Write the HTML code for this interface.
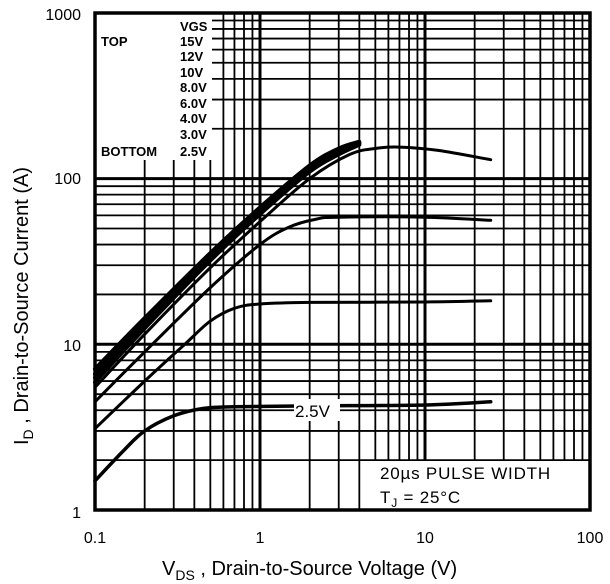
<!DOCTYPE html><html><head><style>body{margin:0;background:#fff}svg{display:block}text{font-family:"Liberation Sans",sans-serif}</style></head><body>
<svg id="s" width="610" height="584" xmlns="http://www.w3.org/2000/svg">
<g id="grid"></g>
<rect x="96" y="14" width="116" height="146" fill="#fff"/>
<g id="curves" fill="none" stroke="#000" stroke-linecap="round" stroke-linejoin="round"></g>
<rect x="294" y="399" width="46" height="22" fill="#fff"/>
<text x="295" y="417" font-size="17">2.5V</text>
<rect x="373" y="461" width="216" height="48" fill="#fff"/>
<text x="380" y="479" font-size="17" letter-spacing="0.8">20µs PULSE WIDTH</text>
<text x="380" y="503" font-size="17" letter-spacing="0.8">T<tspan font-size="12" dy="4">J</tspan><tspan dy="-4"> = 25°C</tspan></text>
<rect x="95" y="13" width="495" height="497" fill="none" stroke="#000" stroke-width="3.5"/>
<g font-size="13" font-weight="bold">
<text x="180" y="31">VGS</text>
<text x="101" y="46">TOP</text><text x="180" y="46">15V</text>
<text x="180" y="61">12V</text><text x="180" y="77">10V</text>
<text x="180" y="92">8.0V</text><text x="180" y="108">6.0V</text>
<text x="180" y="123">4.0V</text><text x="180" y="139">3.0V</text>
<text x="101" y="156">BOTTOM</text><text x="180" y="156">2.5V</text>
</g>
<g font-size="16" text-anchor="middle">
<text x="95" y="543">0.1</text><text x="260" y="543">1</text><text x="425" y="543">10</text><text x="590" y="543">100</text>
</g>
<g font-size="16" text-anchor="end">
<text x="81" y="20">1000</text><text x="81" y="184">100</text><text x="81" y="351">10</text><text x="81" y="518">1</text>
</g>
<text x="162" y="575" font-size="20">V<tspan font-size="14" dy="5">DS</tspan><tspan dy="-5"> , Drain-to-Source Voltage (V)</tspan></text>
<text transform="translate(28,445) rotate(-90)" font-size="20">I<tspan font-size="14" dy="5">D</tspan><tspan dy="-5"> , Drain-to-Source Current (A)</tspan></text>
</svg>
<script>
var X=v=>95+165*(Math.log10(v)+1),Y=i=>510-165.7*Math.log10(i);
var g=document.getElementById('grid'),h='';
for(var d=0;d<3;d++)for(var k=1;k<10;k++){var v=Math.pow(10,d-1)*k,x=X(v);h+='<line x1="'+x+'" y1="13" x2="'+x+'" y2="510" stroke="#000" stroke-width="'+(k==1?3:1.8)+'"/>';}
for(var d=0;d<3;d++)for(var k=1;k<10;k++){var v=Math.pow(10,d)*k,y=Y(v);h+='<line x1="95" y1="'+y+'" x2="590" y2="'+y+'" stroke="#000" stroke-width="'+(k==1?3:1.8)+'"/>';}
g.innerHTML=h;
var C=[
[[0.1,1.5],[0.15,2.3],[0.2,3],[0.3,3.7],[0.45,4.1],[0.7,4.2],[2,4.25],[10,4.3],[25,4.5]],
[[0.1,3.1],[0.2,6],[0.35,10],[0.5,13.8],[0.7,16.5],[1,17.5],[2,17.9],[10,18],[25,18.3]],
[[0.1,4.5],[0.2,9],[0.5,22],[1,40],[1.5,51],[2.2,57],[3,58.5],[10,58.5],[25,56]],
[[0.1,5.5],[0.2,11.5],[0.5,29],[1,55],[2,100],[3.5,140],[5,152],[7,155],[12,148],[25,130]],
[[0.1,5.9],[0.2,12.5],[0.5,32],[1,61],[2,110],[3,140],[4,160]],
[[0.1,6.3],[0.2,13],[0.5,33],[1,63],[2,114],[3,145],[4,163]],
[[0.1,6.6],[0.2,13.6],[0.5,34],[1,65],[2,117],[3,148],[4,165]],
[[0.1,7.1],[0.2,14.4],[0.5,35.5],[1,67],[2,120],[3,152],[4,167]]];
function path(pts){var P=pts.map(p=>[X(p[0]),Y(p[1])]);var s='M'+P[0][0].toFixed(1)+','+P[0][1].toFixed(1);
for(var i=0;i<P.length-1;i++){var p0=P[Math.max(i-1,0)],p1=P[i],p2=P[i+1],p3=P[Math.min(i+2,P.length-1)];
s+=' C'+(p1[0]+(p2[0]-p0[0])/6).toFixed(1)+','+(p1[1]+(p2[1]-p0[1])/6).toFixed(1)+' '+(p2[0]-(p3[0]-p1[0])/6).toFixed(1)+','+(p2[1]-(p3[1]-p1[1])/6).toFixed(1)+' '+p2[0].toFixed(1)+','+p2[1].toFixed(1);}return s;}
var s='';C.forEach((c,j)=>{s+='<path stroke-width="'+(j==0?3.5:(j>3?4:3))+'" d="'+path(c)+'"/>';});
document.getElementById('curves').innerHTML=s;
</script>
</body></html>
